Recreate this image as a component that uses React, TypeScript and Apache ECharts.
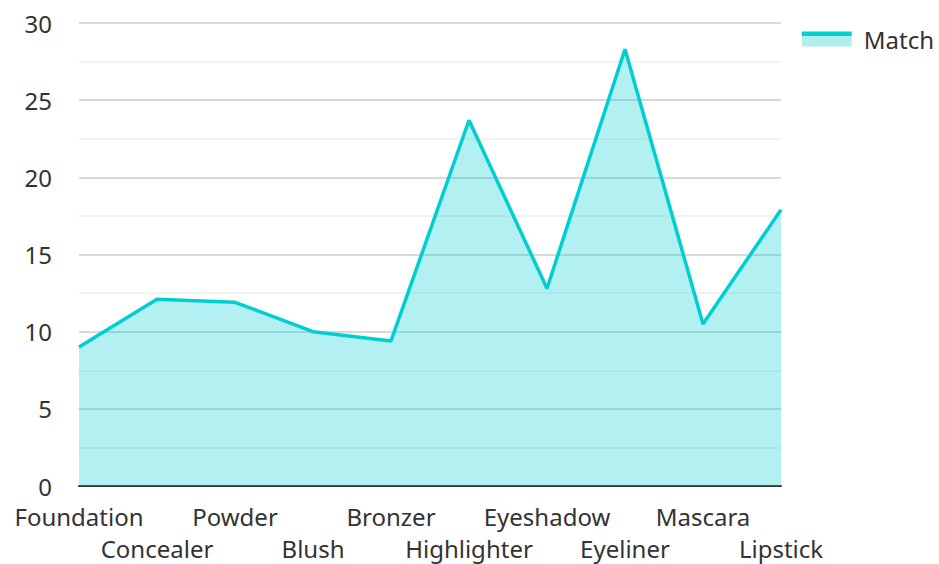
import React, { useEffect, useRef } from "react";
import * as echarts from "echarts";

const categories = ["Foundation", "Concealer", "Powder", "Blush", "Bronzer", "Highlighter", "Eyeshadow", "Eyeliner", "Mascara", "Lipstick"];
const matchValues = [9.0, 12.1, 11.9, 10.0, 9.4, 23.7, 12.8, 28.3, 10.5, 17.9];
const seriesName = "Match";

export default function App() {
  const ref = useRef<HTMLDivElement>(null);
  useEffect(() => {
    const chart = echarts.init(ref.current!, null, { renderer: "svg" });
    const font = "'Noto Sans', 'Open Sans', sans-serif";
    chart.setOption({
      animation: false,
      textStyle: { fontFamily: font },
      legend: {
        data: [seriesName],
        right: 0,
        top: 22,
        itemWidth: 50,
        itemHeight: 15,
        itemGap: 10,
        icon: "rect",
        itemStyle: {
          color: {
            type: "linear",
            x: 0, y: 0, x2: 0, y2: 1,
            colorStops: [
              { offset: 0, color: "#00CED1" },
              { offset: 0.27, color: "#00CED1" },
              { offset: 0.27, color: "#b2eeee" },
              { offset: 1, color: "#b2eeee" },
            ],
          },
        },
        textStyle: { fontSize: 24, color: "#333", fontFamily: font, padding: [0, 0, 8, 7] },
      },
      grid: { left: 79, right: 158, top: 23, bottom: 74, containLabel: false },
      xAxis: {
        type: "category",
        data: categories,
        boundaryGap: false,
        axisLine: { lineStyle: { color: "#333", width: 2 } },
        axisTick: { show: false },
        axisLabel: {
          interval: 0,
          fontSize: 24,
          color: "#333",
          fontFamily: font,
          margin: 14,
          lineHeight: 32,
          formatter: (v: string, i: number) => (i % 2 === 1 ? "\n" + v : v),
        },
      },
      yAxis: {
        type: "value",
        min: 0,
        max: 30,
        interval: 5,
        axisLine: { show: false },
        axisTick: { show: false },
        axisLabel: { fontSize: 24, lineHeight: 22, color: "#333", fontFamily: font, margin: 27 },
        splitLine: { lineStyle: { color: "#ccc", width: 1.5 } },
        minorTick: { show: false, splitNumber: 2 },
        minorSplitLine: { show: true, lineStyle: { color: "#eee", width: 1.5 } },
      },
      series: [
        {
          name: seriesName,
          type: "line",
          data: matchValues,
          symbol: "none",
          lineStyle: { color: "#00CED1", width: 3.5 },
          itemStyle: { color: "#00CED1" },
          areaStyle: { color: "#00CED1", opacity: 0.3 },
        },
      ],
    });
    return () => chart.dispose();
  }, []);
  return <div ref={ref} style={{ width: 939, height: 564, position: "absolute", left: 0, top: 0 }} />;
}
